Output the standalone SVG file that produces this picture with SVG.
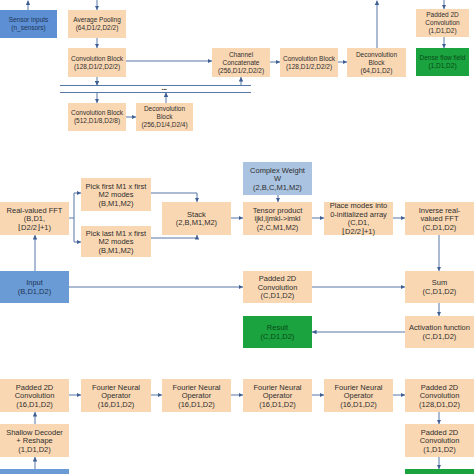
<svg xmlns="http://www.w3.org/2000/svg" width="474" height="474" viewBox="0 0 474 474">
<defs>
<marker id="ah" viewBox="0 0 5 5" markerUnits="userSpaceOnUse" markerWidth="4.5" markerHeight="4.5" refX="5" refY="2.5" orient="auto">
<path d="M0,0 L5,2.5 L0,5 z" fill="#3f5f92"/>
</marker>
<style>
.b{fill:#fad7b3}
.bl{fill:#5c8fd3}
.bi{fill:#6b9bd4}
.bw{fill:#aac3e0}
.g{fill:#1aa33f}
text{font-family:"Liberation Sans",Arial,sans-serif;text-anchor:middle;fill:#2e2e2e}
.t text{font-size:6.5px}
.m text{font-size:7.5px}
.dk{fill:#1e3557}
.dg{fill:#0a4a18}
.c line,.c polyline{stroke:#5677a8;stroke-width:1;fill:none}
.c .a{marker-end:url(#ah)}
</style>
</defs>
<rect width="474" height="474" fill="#fff"/>

<g class="c" id="connectors">
<line class="a" x1="28" y1="10" x2="28" y2="0.5"/>
<line class="a" x1="97" y1="0" x2="97" y2="10"/>
<line class="a" x1="97" y1="38" x2="97" y2="48"/>
<line class="a" x1="126" y1="61" x2="212" y2="61"/>
<line class="a" x1="270" y1="62" x2="280" y2="62"/>
<line class="a" x1="338" y1="62" x2="347" y2="62"/>
<line class="a" x1="377" y1="48" x2="377" y2="0.5"/>
<line class="a" x1="444" y1="0" x2="444" y2="9"/>
<line class="a" x1="444" y1="37" x2="444" y2="48"/>
<line x1="60" y1="85.5" x2="251" y2="85.5"/>
<line x1="60" y1="92.5" x2="251" y2="92.5"/>
<line class="a" x1="97" y1="77" x2="97" y2="85.5"/>
<line class="a" x1="97" y1="92.5" x2="97" y2="103"/>
<line class="a" x1="241" y1="85.5" x2="241" y2="77"/>
<line class="a" x1="166" y1="103" x2="166" y2="92.5"/>
<line class="a" x1="126" y1="117" x2="136" y2="117"/>

<line class="a" x1="35" y1="271" x2="35" y2="235"/>
<polyline points="69,218 74,218"/>
<line x1="74" y1="193" x2="74" y2="242"/>
<line class="a" x1="74" y1="193" x2="81" y2="193"/>
<line class="a" x1="74" y1="242" x2="81" y2="242"/>
<polyline class="a" points="151,193 197,193 197,202"/>
<polyline class="a" points="151,238 197,238 197,235"/>
<line class="a" x1="231" y1="218" x2="243" y2="218"/>
<line class="a" x1="278" y1="195" x2="278" y2="202"/>
<line class="a" x1="312" y1="218" x2="324" y2="218"/>
<line class="a" x1="393" y1="218" x2="405" y2="218"/>
<line class="a" x1="439" y1="235" x2="439" y2="271"/>
<line class="a" x1="69" y1="287" x2="243" y2="287"/>
<line class="a" x1="312" y1="287" x2="405" y2="287"/>
<line class="a" x1="439" y1="303" x2="439" y2="316"/>
<line class="a" x1="405" y1="332" x2="312" y2="332"/>

<line class="a" x1="69" y1="395" x2="81" y2="395"/>
<line class="a" x1="151" y1="395" x2="162" y2="395"/>
<line class="a" x1="231" y1="395" x2="243" y2="395"/>
<line class="a" x1="312" y1="395" x2="324" y2="395"/>
<line class="a" x1="393" y1="395" x2="405" y2="395"/>
<line class="a" x1="439" y1="412" x2="439" y2="424"/>
<line class="a" x1="439" y1="457" x2="439" y2="469"/>
<line class="a" x1="35" y1="424" x2="35" y2="412"/>
<line class="a" x1="35" y1="469" x2="35" y2="457"/>
</g>
<text x="164" y="90.3" style="font-size:8px;font-weight:bold;letter-spacing:-0.5px" fill="#445">...</text>

<g class="t">
<g id="sensor-inputs"><rect class="bl" x="0" y="10" width="57" height="28"/><text class="dk" x="28.5" y="22.3">Sensor inputs</text><text class="dk" x="28.5" y="30.3">(n_sensors)</text></g>
<g id="avg-pool"><rect class="b" x="68" y="10" width="58" height="28"/><text x="97" y="22.3">Average Pooling</text><text x="97" y="30.3">(64,D1/2,D2/2)</text></g>
<g id="conv-block-1"><rect class="b" x="68" y="48" width="58" height="29"/><text x="97" y="60.8">Convolution Block</text><text x="97" y="68.8">(128,D1/2,D2/2)</text></g>
<g id="channel-concat"><rect class="b" x="212" y="48" width="58" height="29"/><text x="241" y="56.8">Channel</text><text x="241" y="64.8">Concatenate</text><text x="241" y="72.8">(256,D1/2,D2/2)</text></g>
<g id="conv-block-2"><rect class="b" x="280" y="48" width="58" height="29"/><text x="309" y="60.8">Convolution Block</text><text x="309" y="68.8">(128,D1/2,D2/2)</text></g>
<g id="deconv-block-64"><rect class="b" x="347" y="48" width="59" height="29"/><text x="376.5" y="56.8">Deconvolution</text><text x="376.5" y="64.8">Block</text><text x="376.5" y="72.8">(64,D1,D2)</text></g>
<g id="padded-conv-top"><rect class="b" x="416" y="9" width="53" height="28"/><text x="442.5" y="17.3">Padded 2D</text><text x="442.5" y="25.3">Convolution</text><text x="442.5" y="33.3">(1,D1,D2)</text></g>
<g id="dense-flow"><rect class="g" x="416" y="48" width="53" height="28"/><text class="dg" x="442.5" y="60.3">Dense flow field</text><text class="dg" x="442.5" y="68.3">(1,D1,D2)</text></g>
<g id="conv-block-512"><rect class="b" x="68" y="103" width="58" height="28"/><text x="97" y="115.3">Convolution Block</text><text x="97" y="123.3">(512,D1/8,D2/8)</text></g>
<g id="deconv-block-256"><rect class="b" x="136" y="103" width="57" height="28"/><text x="164.5" y="111.3">Deconvolution</text><text x="164.5" y="119.3">Block</text><text x="164.5" y="127.3">(256,D1/4,D2/4)</text></g>
</g>

<g class="m">
<g id="rfft"><rect class="b" x="0" y="202" width="69" height="33"/><text x="34.5" y="212.6">Real-valued FFT</text><text x="34.5" y="221.1">(B,D1,</text><text x="34.5" y="229.6">⌊D2/2⌋+1)</text></g>
<g id="pick-first"><rect class="b" x="81" y="178" width="70" height="33"/><text x="116" y="188.6">Pick first M1 x first</text><text x="116" y="197.1">M2 modes</text><text x="116" y="205.6">(B,M1,M2)</text></g>
<g id="pick-last"><rect class="b" x="81" y="226" width="70" height="31"/><text x="116" y="235.6">Pick last M1 x first</text><text x="116" y="244.1">M2 modes</text><text x="116" y="252.6">(B,M1,M2)</text></g>
<g id="stack"><rect class="b" x="162" y="202" width="69" height="33"/><text x="196.5" y="216.9">Stack</text><text x="196.5" y="225.4">(2,B,M1,M2)</text></g>
<g id="complex-weight"><rect class="bw" x="243" y="162" width="69" height="33"/><text x="277.5" y="172.6">Complex Weight</text><text x="277.5" y="181.1">W</text><text x="277.5" y="189.6">(2,B,C,M1,M2)</text></g>
<g id="tensor-product"><rect class="b" x="243" y="202" width="69" height="33"/><text x="277.5" y="212.6">Tensor product</text><text x="277.5" y="221.1">ijkl,ijmkl-&gt;imkl</text><text x="277.5" y="229.6">(2,C,M1,M2)</text></g>
<g id="place-modes"><rect class="b" x="324" y="202" width="69" height="33"/><text x="358.5" y="208.3">Place modes into</text><text x="358.5" y="216.8">0-initialized array</text><text x="358.5" y="225.3">(C,D1,</text><text x="358.5" y="233.8">⌊D2/2⌋+1)</text></g>
<g id="irfft"><rect class="b" x="405" y="202" width="69" height="33"/><text x="439.5" y="212.6">Inverse real-</text><text x="439.5" y="221.1">valued FFT</text><text x="439.5" y="229.6">(C,D1,D2)</text></g>
<g id="input"><rect class="bi" x="0" y="271" width="69" height="32"/><text class="dk" x="34.5" y="285.4">Input</text><text class="dk" x="34.5" y="293.9">(B,D1,D2)</text></g>
<g id="padded-conv-mid"><rect class="b" x="243" y="271" width="69" height="32"/><text x="277.5" y="281.1">Padded 2D</text><text x="277.5" y="289.6">Convolution</text><text x="277.5" y="298.1">(C,D1,D2)</text></g>
<g id="sum"><rect class="b" x="405" y="271" width="69" height="32"/><text x="439.5" y="285.4">Sum</text><text x="439.5" y="293.9">(C,D1,D2)</text></g>
<g id="activation"><rect class="b" x="405" y="316" width="69" height="32"/><text x="439.5" y="330.4">Activation function</text><text x="439.5" y="338.9">(C,D1,D2)</text></g>
<g id="result"><rect class="g" x="243" y="316" width="69" height="32"/><text class="dg" x="277.5" y="330.4">Result</text><text class="dg" x="277.5" y="338.9">(C,D1,D2)</text></g>

<g id="padded-conv-16"><rect class="b" x="0" y="379" width="69" height="33"/><text x="34.5" y="389.6">Padded 2D</text><text x="34.5" y="398.1">Convolution</text><text x="34.5" y="406.6">(16,D1,D2)</text></g>
<g id="fno-1"><rect class="b" x="81" y="379" width="70" height="33"/><text x="116" y="389.6">Fourier Neural</text><text x="116" y="398.1">Operator</text><text x="116" y="406.6">(16,D1,D2)</text></g>
<g id="fno-2"><rect class="b" x="162" y="379" width="69" height="33"/><text x="196.5" y="389.6">Fourier Neural</text><text x="196.5" y="398.1">Operator</text><text x="196.5" y="406.6">(16,D1,D2)</text></g>
<g id="fno-3"><rect class="b" x="243" y="379" width="69" height="33"/><text x="277.5" y="389.6">Fourier Neural</text><text x="277.5" y="398.1">Operator</text><text x="277.5" y="406.6">(16,D1,D2)</text></g>
<g id="fno-4"><rect class="b" x="324" y="379" width="69" height="33"/><text x="358.5" y="389.6">Fourier Neural</text><text x="358.5" y="398.1">Operator</text><text x="358.5" y="406.6">(16,D1,D2)</text></g>
<g id="padded-conv-128"><rect class="b" x="405" y="379" width="69" height="33"/><text x="439.5" y="389.6">Padded 2D</text><text x="439.5" y="398.1">Convolution</text><text x="439.5" y="406.6">(128,D1,D2)</text></g>
<g id="shallow-decoder"><rect class="b" x="0" y="424" width="69" height="33"/><text x="34.5" y="434.6">Shallow Decoder</text><text x="34.5" y="443.1">+ Reshape</text><text x="34.5" y="451.6">(1,D1,D2)</text></g>
<g id="padded-conv-1"><rect class="b" x="405" y="424" width="69" height="33"/><text x="439.5" y="434.6">Padded 2D</text><text x="439.5" y="443.1">Convolution</text><text x="439.5" y="451.6">(1,D1,D2)</text></g>
<g id="bottom-input"><rect class="bi" x="0" y="469" width="69" height="6"/></g>
<g id="bottom-output"><rect class="g" x="405" y="469" width="69" height="6"/></g>
</g>
</svg>
